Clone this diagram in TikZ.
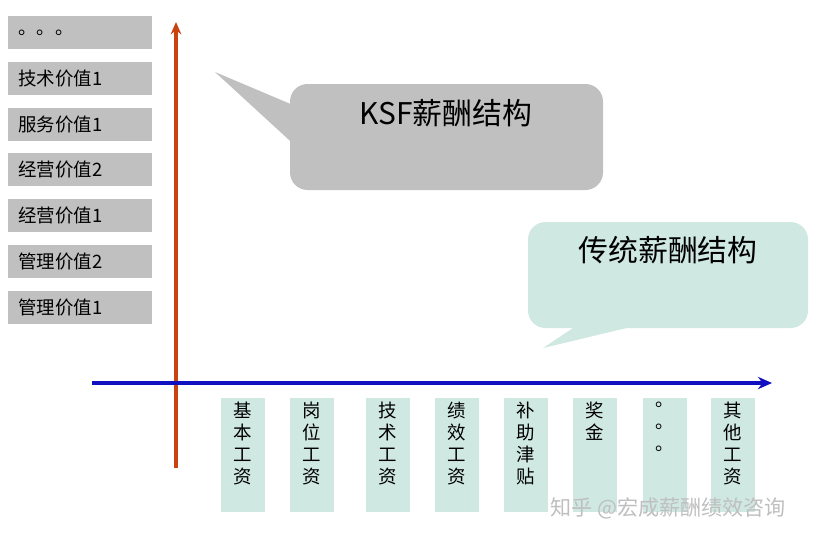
\documentclass[tikz,border=0pt]{standalone}
\usepackage{fontspec}
\usetikzlibrary{arrows.meta}
\setmainfont{Noto Sans CJK SC}
\definecolor{boxgray}{HTML}{C0C0C0}
\definecolor{teal}{HTML}{CFE8E2}
\definecolor{axred}{HTML}{C8430E}
\definecolor{axblue}{HTML}{1010C0}
\begin{document}
\begin{tikzpicture}[x=0.02cm,y=-0.02cm,
 lbox/.style={fill=boxgray,draw=none,minimum width=2.88cm,minimum height=0.66cm,anchor=north west,inner xsep=0.2cm,text width=2.48cm,align=left,font=\fontsize{10.5pt}{12pt}\selectfont},
 bbox/.style={fill=teal,draw=none,minimum width=0.88cm,minimum height=2.28cm,anchor=north,inner sep=0pt}]
\useasboundingbox (0,0) rectangle (827,542);
\fill[white] (0,0) rectangle (827,542);
\node[lbox] (l0) at (8,16) {。。。};
\node[lbox] (l1) at (8,62) {技术价值1};
\node[lbox] (l2) at (8,108) {服务价值1};
\node[lbox] (l3) at (8,153) {经营价值2};
\node[lbox] (l4) at (8,199) {经营价值1};
\node[lbox] (l5) at (8,245) {管理价值2};
\node[lbox] (l6) at (8,291) {管理价值1};
\coordinate (ya) at (176,468); \coordinate (yb) at (176,22);
\draw[axred,line width=2.2pt,-{Stealth[length=7pt,width=6pt]}] (ya) -- (yb);
\coordinate (xa) at (92,383); \coordinate (xb) at (772,383);
\draw[axblue,line width=2.2pt,-{Stealth[length=8pt,width=7pt]}] (xa) -- (xb);
\fill[boxgray,rounded corners=10pt] (290,84) rectangle (603,190);
\fill[boxgray] (215,72) -- (300,108) -- (300,150) -- cycle;
\node[font=\fontsize{17pt}{19pt}\selectfont] (k) at (446,113) {KSF薪酬结构};
\fill[teal,rounded corners=10pt] (528,222) rectangle (808,328);
\fill[teal] (543,348) -- (600,310) -- (660,320) -- cycle;
\node[font=\fontsize{17pt}{19pt}\selectfont] (t) at (668,250) {传统薪酬结构};
\foreach \x/\t [count=\i] in {243/基\\本\\工\\资,312/岗\\位\\工\\资,388/技\\术\\工\\资,457/绩\\效\\工\\资,526/补\\助\\津\\贴,595/奖\\金,665/。\\。\\。,733/其\\他\\工\\资}{
 \node[bbox] (b\i) at (\x,398) {};
 \node[anchor=north,align=center,inner sep=0pt,font=\fontsize{10.5pt}{12.5pt}\selectfont] (bt\i) at (\x,402) {\t};
}
\node[text=white!75!black,font=\fontsize{12pt}{14pt}\selectfont] (w) at (668,508) {知乎 @宏成薪酬绩效咨询};
\end{tikzpicture}
\end{document}
